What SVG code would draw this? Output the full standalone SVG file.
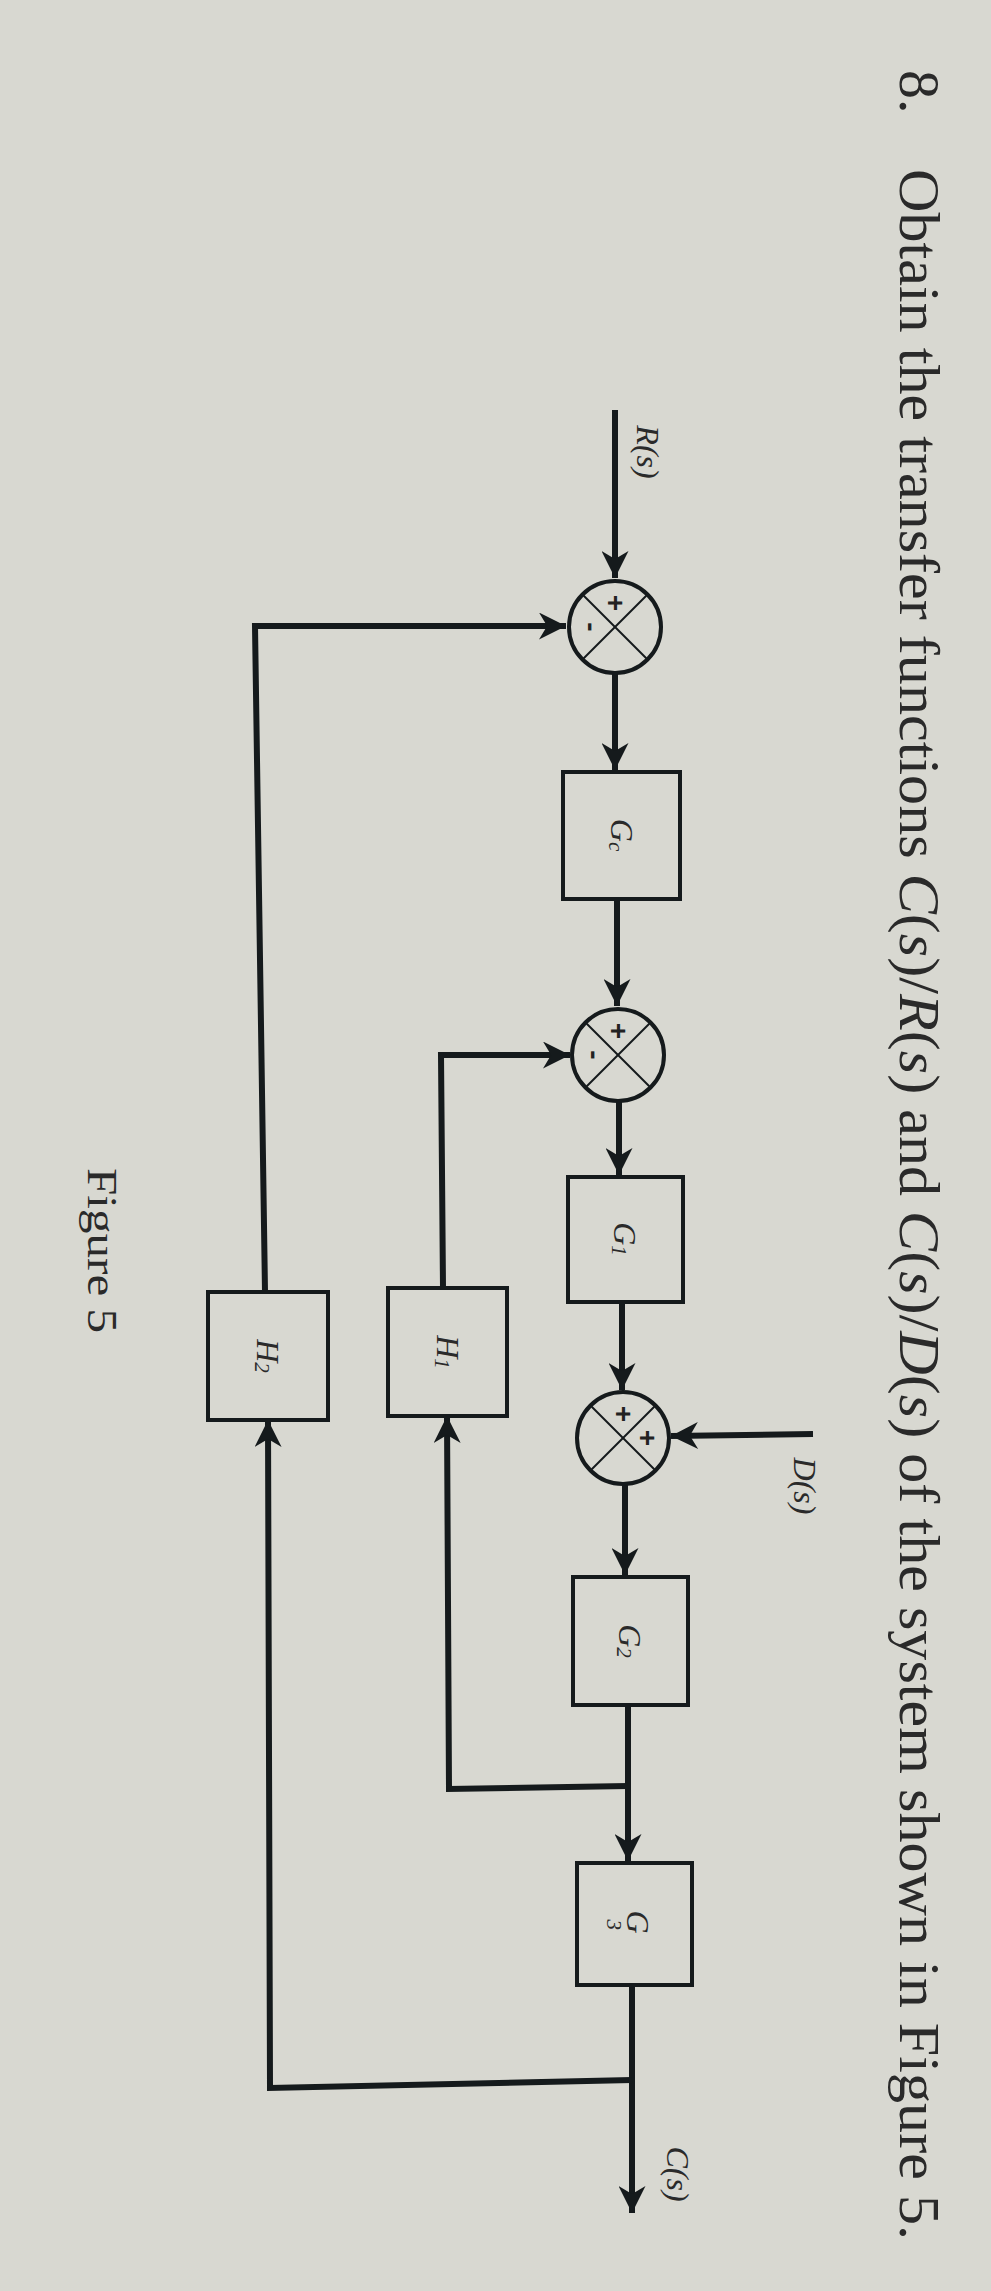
<svg xmlns="http://www.w3.org/2000/svg" width="991" height="2291" viewBox="0 0 991 2291">
<style>
.ln{fill:none;stroke:#151a1c;stroke-width:6}
.bx{fill:none;stroke:#151a1c;stroke-width:4}
.sm{fill:none;stroke:#151a1c;stroke-width:4}
.x{stroke:#151a1c;stroke-width:2}
.lb{font-family:"Liberation Serif",serif;font-style:italic;font-size:32px;fill:#2a2a2a}
.sg{font-family:"Liberation Sans",sans-serif;font-weight:bold;font-size:28px;fill:#222}
.tt{font-family:"Liberation Serif",serif;font-size:58px;fill:#2a2a2a}
</style>
<defs>
<marker id="ar" viewBox="0 0 10 10" refX="10" refY="5" markerWidth="6" markerHeight="4.5" orient="auto" markerUnits="strokeWidth">
<path d="M0,0 L10,5 L0,10 L3,5 z" fill="#151a1c"/>
</marker>
</defs>
<rect width="991" height="2291" fill="#d8d8d1"/>
<text class="tt" transform="translate(900,70) rotate(90)">8.</text>
<text class="tt" transform="translate(900,169) rotate(90)" textLength="2071" lengthAdjust="spacingAndGlyphs">Obtain the transfer functions <tspan font-style="italic">C</tspan>(<tspan font-style="italic">s</tspan>)/<tspan font-style="italic">R</tspan>(<tspan font-style="italic">s</tspan>) and <tspan font-style="italic">C</tspan>(<tspan font-style="italic">s</tspan>)/<tspan font-style="italic">D</tspan>(<tspan font-style="italic">s</tspan>) of the system shown in Figure 5.</text>
<text class="tt" style="font-size:42px" transform="translate(88,1168) rotate(90)" textLength="165" lengthAdjust="spacingAndGlyphs">Figure 5</text>
<g id="connectors">
<line class="ln" x1="615" y1="410" x2="615" y2="578" marker-end="url(#ar)"/>
<line class="ln" x1="615" y1="673" x2="615" y2="770" marker-end="url(#ar)"/>
<line class="ln" x1="617" y1="899" x2="617" y2="1006" marker-end="url(#ar)"/>
<line class="ln" x1="619" y1="1101" x2="619" y2="1175" marker-end="url(#ar)"/>
<line class="ln" x1="622" y1="1302" x2="622" y2="1390" marker-end="url(#ar)"/>
<line class="ln" x1="813" y1="1434" x2="671" y2="1436" marker-end="url(#ar)"/>
<line class="ln" x1="625" y1="1484" x2="625" y2="1575" marker-end="url(#ar)"/>
<line class="ln" x1="628" y1="1705" x2="628" y2="1861" marker-end="url(#ar)"/>
<line class="ln" x1="632" y1="1985" x2="632" y2="2213" marker-end="url(#ar)"/>
<polyline class="ln" points="628,1786 449,1789 447,1416" marker-end="url(#ar)"/>
<polyline class="ln" points="443,1288 441,1055 570,1055" marker-end="url(#ar)"/>
<polyline class="ln" points="632,2080 270,2088 268,1420" marker-end="url(#ar)"/>
<polyline class="ln" points="265,1292 255,626 566,626" marker-end="url(#ar)"/>
</g>
<g id="sum1">
<circle class="sm" cx="615" cy="627" r="46"/>
<line class="x" x1="583" y1="595" x2="647" y2="659"/><line class="x" x1="647" y1="595" x2="583" y2="659"/>
<text class="sg" x="615" y="603" text-anchor="middle" dominant-baseline="central" transform="rotate(90 615 603)">+</text>
<text class="sg" x="591" y="627" text-anchor="middle" dominant-baseline="central" transform="rotate(90 591 627)">-</text>
</g>
<g id="Gc"><rect class="bx" x="563" y="772" width="117" height="127"/>
<text class="lb" transform="translate(622,835) rotate(90)" text-anchor="middle" dominant-baseline="central">G<tspan font-size="21" dy="6">c</tspan></text></g>
<g id="sum2">
<circle class="sm" cx="618" cy="1055" r="46"/>
<line class="x" x1="586" y1="1023" x2="650" y2="1087"/><line class="x" x1="650" y1="1023" x2="586" y2="1087"/>
<text class="sg" x="618" y="1031" text-anchor="middle" dominant-baseline="central" transform="rotate(90 618 1031)">+</text>
<text class="sg" x="594" y="1055" text-anchor="middle" dominant-baseline="central" transform="rotate(90 594 1055)">-</text>
</g>
<g id="G1"><rect class="bx" x="568" y="1177" width="115" height="125"/>
<text class="lb" transform="translate(625,1239) rotate(90)" text-anchor="middle" dominant-baseline="central">G<tspan font-size="21" dy="6">1</tspan></text></g>
<g id="sum3">
<circle class="sm" cx="623" cy="1438" r="46"/>
<line class="x" x1="591" y1="1406" x2="655" y2="1470"/><line class="x" x1="655" y1="1406" x2="591" y2="1470"/>
<text class="sg" x="623" y="1414" text-anchor="middle" dominant-baseline="central" transform="rotate(90 623 1414)">+</text>
<text class="sg" x="647" y="1438" text-anchor="middle" dominant-baseline="central" transform="rotate(90 647 1438)">+</text>
</g>
<g id="G2"><rect class="bx" x="573" y="1577" width="115" height="128"/>
<text class="lb" transform="translate(630,1641) rotate(90)" text-anchor="middle" dominant-baseline="central">G<tspan font-size="21" dy="6">2</tspan></text></g>
<g id="G3"><rect class="bx" x="577" y="1863" width="115" height="122"/>
<text class="lb" transform="translate(638,1922) rotate(90)" text-anchor="middle" dominant-baseline="central">G<tspan font-size="21" dx="-14" dy="24">3</tspan></text></g>
<g id="H1"><rect class="bx" x="388" y="1288" width="119" height="128"/>
<text class="lb" transform="translate(448,1352) rotate(90)" text-anchor="middle" dominant-baseline="central">H<tspan font-size="21" dy="6">1</tspan></text></g>
<g id="H2"><rect class="bx" x="208" y="1292" width="120" height="128"/>
<text class="lb" transform="translate(268,1356) rotate(90)" text-anchor="middle" dominant-baseline="central">H<tspan font-size="21" dy="6">2</tspan></text></g>
<g id="labels">
<text class="lb" transform="translate(648,452) rotate(90)" text-anchor="middle" dominant-baseline="central">R(s)</text>
<text class="lb" transform="translate(805,1486) rotate(90)" text-anchor="middle" dominant-baseline="central">D(s)</text>
<text class="lb" transform="translate(678,2174) rotate(90)" text-anchor="middle" dominant-baseline="central">C(s)</text>
</g>
</svg>
